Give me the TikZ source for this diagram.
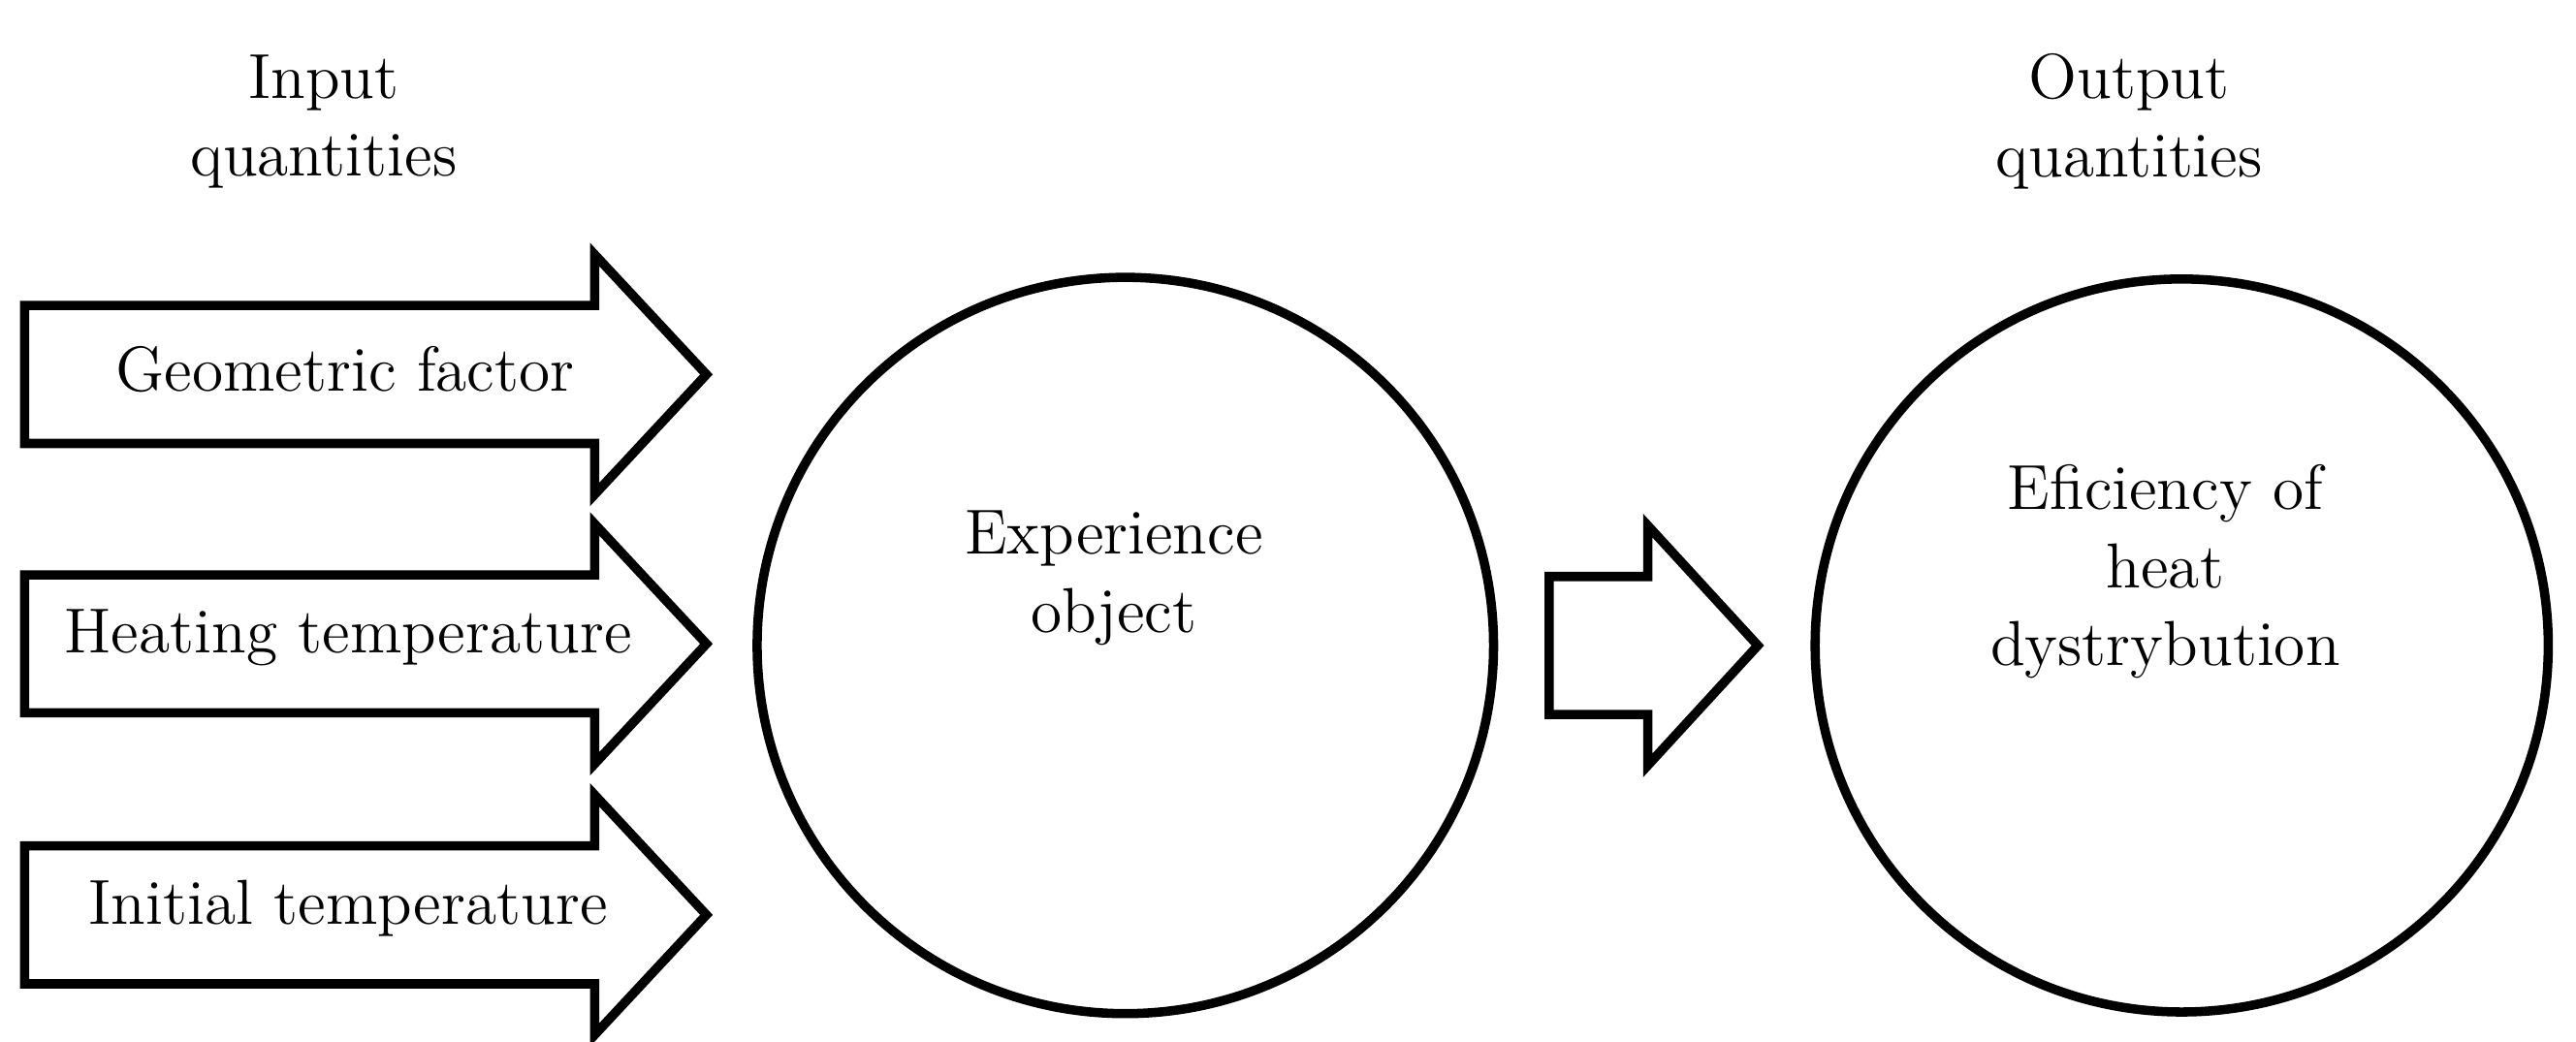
\documentclass[tikz,border=0pt]{standalone}
\begin{document}
\begin{tikzpicture}[x=0.01cm,y=-0.01cm,line width=1.6pt,line join=miter,
  lbl/.style={font=\fontsize{11}{13.5}\selectfont,align=center,inner sep=0pt}]
\useasboundingbox (0,0) rectangle (1568,634);
\newcommand{\bigarr}[4]{% x0, x1 (head base), tip x, cy
  \draw (#1,#4-42) -- (#2,#4-42) -- (#2,#4-73) -- (#3,#4) -- (#2,#4+73) -- (#2,#4+42) -- (#1,#4+42) -- cycle;}
\bigarr{15}{362}{430}{228}
\bigarr{15}{362}{430}{392}
\bigarr{15}{362}{430}{557}
\bigarr{943}{1003}{1070}{393}
\node[lbl] (g) at (210,225) {Geometric factor};
\node[lbl] (h) at (212,388) {Heating temperature};
\node[lbl] (i) at (212,553) {Initial temperature};
\node[draw,circle,minimum size=4.48cm,inner sep=0pt] (e) at (685,393) {};
\node[lbl] (et) at (678,352) {Experience\\object};
\node[draw,circle,minimum size=4.46cm,inner sep=0pt] (o) at (1328,393) {};
\node[lbl] (ot) at (1318,348) {Eficiency of\\heat\\dystrybution};
\node[lbl] (in) at (197,74) {Input\\quantities};
\node[lbl] (out) at (1296,74) {Output\\quantities};
\end{tikzpicture}
\end{document}
